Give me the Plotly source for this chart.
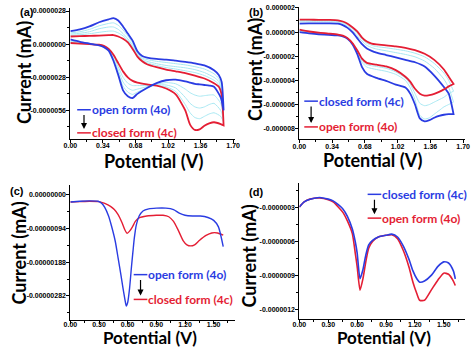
import plotly.graph_objects as go

W, H = 474, 348

BLUE = "#2a3ce2"
RED = "#e41e34"
CYAN = "#a9e8f2"

# ---------------- panel (a): CV, open form (4o) -> closed form (4c) ----------------
a_v_fwd = [0, 0.1, 0.2, 0.3, 0.4, 0.45, 0.5, 0.55, 0.6, 0.65, 0.7, 0.75, 0.8, 0.9, 1.0,
           1.1, 1.2, 1.3, 1.4, 1.5, 1.55, 1.58, 1.6]
a_v_rev = [1.6, 1.57, 1.5, 1.45, 1.4, 1.35, 1.3, 1.25, 1.2, 1.1, 1.0, 0.9, 0.8, 0.7, 0.65,
           0.6, 0.55, 0.5, 0.45, 0.4, 0.35, 0.3, 0.2, 0.1, 0.0]
# currents in 1e-6 mA
a_open_fwd = [1.1, 1.25, 1.5, 1.85, 2.1, 2.2, 2.0, 1.5, 0.9, 0.3, -0.6, -1.0, -1.13, -1.25, -1.3,
              -1.4, -1.5, -1.62, -1.8, -2.2, -2.6, -3.2, -5.6]
a_open_rev = [-5.6, -4.5, -3.6, -3.5, -3.45, -3.4, -3.35, -3.25, -3.15, -3.0, -3.05, -3.3, -3.7,
              -4.2, -4.55, -4.4, -3.9, -2.6, -1.4, -0.55, -0.25, -0.1, 0.05, 0.2, 0.4]
a_closed_fwd = [0.65, 0.68, 0.7, 0.72, 0.76, 0.77, 0.65, 0.45, 0.15, -0.4, -1.05, -1.45, -1.7,
                -1.95, -2.15, -2.3, -2.45, -2.65, -2.9, -3.3, -3.6, -4.3, -6.86]
a_closed_rev = [-6.86, -6.75, -6.6, -6.7, -6.9, -7.2, -7.25, -6.8, -5.6, -4.25, -3.75, -3.5,
                -3.4, -3.25, -3.1, -2.8, -2.3, -1.6, -0.9, -0.4, -0.15, -0.05, 0.0, 0.05, 0.1]
a_scan1_fwd = [0.95, 1.05, 1.25, 1.55, 1.75, 1.8, 1.6, 1.2, 0.7, 0.1, -0.75, -1.15, -1.3, -1.45,
               -1.55, -1.65, -1.75, -1.9, -2.1, -2.5, -2.9, -3.6, -6.0]
a_scan1_rev = [-6.0, -5.0, -4.3, -4.3, -4.35, -4.4, -4.3, -4.1, -3.8, -3.35, -3.25, -3.4, -3.7,
               -4.05, -4.25, -4.05, -3.55, -2.45, -1.3, -0.5, -0.22, -0.08, 0.05, 0.15, 0.3]
a_scan2_fwd = [0.85, 0.92, 1.05, 1.3, 1.45, 1.45, 1.25, 0.9, 0.45, -0.1, -0.85, -1.25, -1.45,
               -1.65, -1.8, -1.9, -2.0, -2.15, -2.4, -2.8, -3.15, -3.9, -6.3]
a_scan2_rev = [-6.3, -5.6, -5.0, -5.1, -5.3, -5.4, -5.3, -5.0, -4.5, -3.7, -3.45, -3.45, -3.6,
               -3.8, -3.9, -3.7, -3.2, -2.2, -1.2, -0.47, -0.2, -0.07, 0.03, 0.1, 0.22]
a_scan3_fwd = [0.75, 0.8, 0.88, 1.0, 1.1, 1.1, 0.95, 0.7, 0.3, -0.25, -0.95, -1.35, -1.58,
               -1.8, -1.98, -2.1, -2.25, -2.4, -2.65, -3.05, -3.4, -4.1, -6.6]
a_scan3_rev = [-6.6, -6.1, -5.8, -5.9, -6.1, -6.3, -6.2, -5.8, -5.1, -4.0, -3.6, -3.5, -3.5,
               -3.5, -3.5, -3.3, -2.8, -1.9, -1.0, -0.42, -0.17, -0.06, 0.01, 0.07, 0.15]

# ---------------- panel (b): CV, closed form (4c) -> open form (4o) ----------------
b_v_fwd = [0, 0.1, 0.2, 0.3, 0.4, 0.45, 0.5, 0.55, 0.6, 0.65, 0.7, 0.75, 0.8, 0.9, 1.0, 1.1,
           1.2, 1.3, 1.4, 1.5, 1.55, 1.6]
b_v_rev = [1.6, 1.55, 1.5, 1.45, 1.4, 1.35, 1.3, 1.25, 1.2, 1.15, 1.1, 1.0, 0.9, 0.8, 0.7,
           0.65, 0.6, 0.55, 0.5, 0.45, 0.4, 0.3, 0.2, 0.1, 0.0]
b_closed_fwd = [0.71, 0.72, 0.72, 0.72, 0.7, 0.58, 0.35, 0.0, -0.5, -1.0, -1.35, -1.55, -1.7,
                -1.9, -2.1, -2.3, -2.5, -2.85, -3.6, -4.55, -5.1, -6.8]
b_closed_rev = [-6.8, -6.8, -6.85, -6.95, -7.1, -7.3, -7.4, -7.15, -6.0, -5.1, -4.6, -4.35,
                -4.05, -3.8, -3.45, -2.9, -1.8, -1.0, -0.55, -0.35, -0.28, -0.22, -0.18, -0.1, 0.0]
b_open_fwd = [1.04, 1.03, 1.02, 1.01, 0.98, 0.88, 0.7, 0.4, 0.05, -0.45, -0.78, -0.95, -1.02,
              -1.1, -1.18, -1.3, -1.5, -1.8, -2.3, -3.1, -3.7, -4.3]
b_open_rev = [-4.3, -4.5, -4.75, -4.95, -5.12, -5.22, -5.26, -5.1, -4.7, -4.1, -3.7, -3.15,
              -2.85, -2.7, -2.55, -2.2, -1.5, -0.9, -0.5, -0.3, -0.2, -0.12, -0.05, 0.05, 0.2]
b_scan1_fwd = [0.85, 0.86, 0.86, 0.85, 0.83, 0.72, 0.5, 0.15, -0.3, -0.75, -1.1, -1.28, -1.4,
               -1.55, -1.7, -1.85, -2.05, -2.4, -3.0, -3.9, -4.6, -5.8]
b_scan1_rev = [-5.8, -6.0, -6.2, -6.5, -6.8, -7.1, -7.2, -6.9, -5.6, -4.6, -4.0, -3.5, -3.25,
               -3.1, -2.9, -2.5, -1.6, -0.95, -0.5, -0.3, -0.22, -0.16, -0.1, -0.02, 0.1]
b_scan2_fwd = [0.95, 0.95, 0.94, 0.93, 0.9, 0.8, 0.6, 0.28, -0.1, -0.6, -0.92, -1.1, -1.2,
               -1.3, -1.42, -1.55, -1.75, -2.05, -2.6, -3.4, -4.0, -4.9]
b_scan2_rev = [-4.9, -5.1, -5.4, -5.6, -5.8, -6.0, -6.1, -5.9, -5.1, -4.3, -3.8, -3.3, -3.0,
               -2.85, -2.7, -2.35, -1.55, -0.9, -0.5, -0.3, -0.2, -0.14, -0.07, 0.02, 0.15]

# ---------------- panel (c): DPV, open form (4o) -> closed form (4c) ----------------
c_open_v = [0, 0.1, 0.2, 0.29, 0.33, 0.36, 0.4, 0.43, 0.47, 0.5, 0.53, 0.55, 0.57, 0.585, 0.6,
            0.62, 0.64, 0.655, 0.67, 0.69, 0.72, 0.76, 0.82, 0.9, 1.0, 1.08, 1.14, 1.2, 1.28,
            1.36, 1.44, 1.5, 1.55, 1.6]
c_open_i = [-0.21, -0.19, -0.18, -0.19, -0.25, -0.36, -0.6, -0.87, -1.3, -1.77, -2.25, -2.59,
            -2.9, -3.1, -3.0, -2.6, -2.0, -1.59, -1.2, -0.85, -0.6, -0.46, -0.4, -0.38, -0.38,
            -0.42, -0.52, -0.58, -0.6, -0.6, -0.64, -0.72, -0.9, -1.45]
c_closed_v = [0, 0.1, 0.2, 0.3, 0.36, 0.42, 0.46, 0.5, 0.54, 0.57, 0.595, 0.62, 0.65, 0.68,
              0.72, 0.8, 0.9, 0.97, 1.03, 1.08, 1.13, 1.18, 1.22, 1.26, 1.3, 1.35, 1.42, 1.48,
              1.54, 1.6]
c_closed_i = [-0.21, -0.2, -0.19, -0.2, -0.25, -0.33, -0.42, -0.56, -0.78, -0.98, -1.08, -1.02,
              -0.9, -0.75, -0.65, -0.6, -0.58, -0.58, -0.62, -0.75, -1.0, -1.28, -1.4, -1.43,
              -1.4, -1.28, -1.14, -1.07, -1.07, -1.13]

# ---------------- panel (d): DPV, closed form (4c) -> open form (4o) ----------------
d_v = [0, 0.05, 0.11, 0.21, 0.3, 0.35, 0.45, 0.5, 0.55, 0.58, 0.6, 0.63, 0.66, 0.69, 0.72,
       0.76, 0.82, 0.9, 0.96, 1.02, 1.08, 1.14, 1.18, 1.22, 1.25, 1.3, 1.37, 1.44, 1.5, 1.55,
       1.6, 1.62]
d_closed_i = [-0.295, -0.25, -0.227, -0.21, -0.225, -0.24, -0.31, -0.38, -0.49, -0.6, -0.7,
              -0.93, -0.85, -0.72, -0.63, -0.59, -0.56, -0.545, -0.535, -0.56, -0.64, -0.76,
              -0.86, -0.93, -0.96, -0.95, -0.9, -0.82, -0.78, -0.79, -0.86, -0.93]
d_open_i = [-0.295, -0.25, -0.225, -0.215, -0.23, -0.25, -0.34, -0.42, -0.53, -0.7, -0.82,
            -1.03, -0.93, -0.78, -0.66, -0.6, -0.56, -0.545, -0.54, -0.575, -0.68, -0.83,
            -0.96, -1.06, -1.12, -1.12, -1.03, -0.94, -0.88, -0.89, -0.95, -0.99]

# ---------------- tick labels ----------------
xt_ab = [0, 0.34, 0.68, 1.02, 1.36, 1.70]
xt_ab_text = ["0.00", "0.34", "0.68", "1.02", "1.36", "1.70"]
xt_cd = [0, 0.3, 0.6, 0.9, 1.2, 1.5]
xt_cd_text = ["0.00", "0.30", "0.60", "0.90", "1.20", "1.50"]
yt_a = [2.8, 0, -2.8, -5.6]
yt_a_text = ["0.0000028", "0.0000000", "-0.0000028", "-0.0000056"]
yt_b = [2, 0, -2, -4, -6, -8]
yt_b_text = ["0.000002", "0.000000", "-0.000002", "-0.000004", "-0.000006", "-0.000008"]
yt_c = [0, -0.94, -1.88, -2.82]
yt_c_text = ["0.00000000", "-0.00000094", "-0.00000188", "-0.00000282"]
yt_d = [-0.3, -0.6, -0.9, -1.2]
yt_d_text = ["-0.0000003", "-0.0000006", "-0.0000009", "-0.0000012"]

SCALE = 1e-6


def loop(vf, fwd, vr, rev):
    return vf + vr, [v * SCALE for v in fwd + rev]


fig = go.Figure()


def add_line(x, y, color, width, ax):
    fig.add_trace(go.Scatter(
        x=x, y=y, mode="lines", xaxis="x" + ax, yaxis="y" + ax,
        line=dict(color=color, width=width, shape="spline", smoothing=0.6),
        showlegend=False, hoverinfo="skip"))


# panel (a)
for f, r in [(a_scan1_fwd, a_scan1_rev), (a_scan2_fwd, a_scan2_rev), (a_scan3_fwd, a_scan3_rev)]:
    add_line(*loop(a_v_fwd, f, a_v_rev, r), CYAN, 1, "")
add_line(*loop(a_v_fwd, a_closed_fwd, a_v_rev, a_closed_rev), RED, 1.8, "")
add_line(*loop(a_v_fwd, a_open_fwd, a_v_rev, a_open_rev), BLUE, 1.8, "")

# panel (b)
for f, r in [(b_scan1_fwd, b_scan1_rev), (b_scan2_fwd, b_scan2_rev)]:
    add_line(*loop(b_v_fwd, f, b_v_rev, r), CYAN, 1, "2")
add_line(*loop(b_v_fwd, b_closed_fwd, b_v_rev, b_closed_rev), BLUE, 1.8, "2")
add_line(*loop(b_v_fwd, b_open_fwd, b_v_rev, b_open_rev), RED, 1.8, "2")

# panel (c)
add_line(c_closed_v, [v * SCALE for v in c_closed_i], RED, 1.4, "3")
add_line(c_open_v, [v * SCALE for v in c_open_i], BLUE, 1.4, "3")

# panel (d)
add_line(d_v, [v * SCALE for v in d_open_i], RED, 1.6, "4")
add_line(d_v, [v * SCALE for v in d_closed_i], BLUE, 1.6, "4")

TICKFONT = dict(family="Arial, Liberation Sans", size=7, color="black", weight="bold")


def px_x(p):
    return p / W


def px_y(p):
    return 1 - p / H


def xaxis(dom, tv, tt, minor_step, anchor, standoff):
    return dict(domain=[px_x(dom[0]), px_x(dom[1])], range=[0, 1.72], anchor=anchor,
                showline=True, linecolor="black", linewidth=1, mirror=False,
                showgrid=False, zeroline=False, ticks="outside", ticklen=3,
                tickcolor="black", tickwidth=1, tickmode="array", tickvals=tv,
                ticktext=tt, tickfont=TICKFONT, ticklabelstandoff=standoff,
                minor=dict(ticks="outside", ticklen=2, tickcolor="black",
                           dtick=minor_step, tick0=0))


def yaxis(dom, rng, tv, tt, minor_step, anchor):
    return dict(domain=[px_y(dom[1]), px_y(dom[0])], range=[r * SCALE for r in rng],
                anchor=anchor, showline=True, linecolor="black", linewidth=1,
                mirror=False, showgrid=False, zeroline=False, ticks="outside",
                ticklen=3, tickcolor="black", tickwidth=1, tickmode="array",
                tickvals=[v * SCALE for v in tv], ticktext=tt, tickfont=TICKFONT,
                ticklabelstandoff=-1,
                minor=dict(ticks="outside", ticklen=2, tickcolor="black",
                           dtick=minor_step * SCALE, tick0=0))


layout = dict(
    width=W, height=H, margin=dict(l=0, r=0, t=0, b=0),
    paper_bgcolor="white", plot_bgcolor="white", showlegend=False,
    xaxis=xaxis((65, 234), xt_ab, xt_ab_text, 0.17, "y", -3),
    yaxis=yaxis((5, 137), (-8.0, 3.06), yt_a, yt_a_text, 1.4, "x"),
    xaxis2=xaxis((300, 470), xt_ab, xt_ab_text, 0.17, "y2", -3),
    yaxis2=yaxis((4.4, 137.3), (-8.87, 2.05), yt_b, yt_b_text, 1.0, "x2"),
    xaxis3=xaxis((65, 233.6), xt_cd, xt_cd_text, 0.15, "y3", -5),
    yaxis3=yaxis((184, 319.5), (-3.48, 0.25), yt_c, yt_c_text, 0.47, "x3"),
    xaxis4=xaxis((300, 469.8), xt_cd, xt_cd_text, 0.15, "y4", -5),
    yaxis4=yaxis((182, 319), (-1.288, -0.086), yt_d, yt_d_text, 0.15, "x4"),
)
fig.update_layout(**layout)

TITLE_FONT = dict(family="Lato, Open Sans", size=18, color="black", weight="bold")
BOTTOM_TITLE_FONT = dict(TITLE_FONT, size=17)
LEG_FONT = dict(family="Lato, Open Sans", size=12, weight="bold")

annotations = []
shapes = []


def text(x, y, s, font, angle=0, xanchor="center"):
    annotations.append(dict(x=px_x(x), y=px_y(y), xref="paper", yref="paper", text=s,
                            showarrow=False, font=font, textangle=angle,
                            xanchor=xanchor, yanchor="middle", borderpad=0))


# axis titles
for cx, cy in [(18, 70), (255, 67), (12, 252), (248, 255)]:
    text(cx, cy, "Current (mA)", TITLE_FONT, angle=-90)
for cx, cy in [(150, 159), (375, 158)]:
    text(cx, cy, "Potential (V)", TITLE_FONT)
for cx, cy in [(147, 337.3), (387, 337.3)]:
    text(cx, cy, "Potential (V)", BOTTOM_TITLE_FONT)

# panel letters
PANEL_FONT = dict(family="Arial, Liberation Sans", size=11, color="black", weight="bold")
for cx, cy, s in [(12, 9, "(a)"), (247, 9, "(b)"), (2, 190, "(c)"), (247, 191, "(d)")]:
    text(cx, cy, s, PANEL_FONT, xanchor="left")


def legend(x0, y_top, y_bot, top_label, top_color, bot_label, bot_color):
    for yy, label, col in [(y_top, top_label, top_color), (y_bot, bot_label, bot_color)]:
        shapes.append(dict(type="line", xref="paper", yref="paper",
                           x0=px_x(x0), x1=px_x(x0 + 14), y0=px_y(yy), y1=px_y(yy),
                           line=dict(color=col, width=1.5)))
        text(x0 + 14, yy, label, dict(LEG_FONT, color=col), xanchor="left")
    ax_x = x0 + 7
    tip = y_bot - 4
    tail = y_top + 4
    annotations.append(dict(x=px_x(ax_x), y=px_y(tip), xref="paper", yref="paper",
                            ax=0, ay=-(tip - tail), showarrow=True, arrowhead=2,
                            arrowsize=1, arrowwidth=1.2, arrowcolor="black", text=""))


legend(72, 107.7, 131, "open form (4o)", BLUE, "closed form (4c)", RED)
legend(305, 99, 125, "closed form (4c)", BLUE, "open form (4o)", RED)
legend(130, 274, 299, "open form (4o)", BLUE, "closed form (4c)", RED)
legend(370, 193, 217, "closed form (4c)", BLUE, "open form (4o)", RED)

fig.update_layout(annotations=annotations, shapes=shapes)
fig.write_html("out.html")
